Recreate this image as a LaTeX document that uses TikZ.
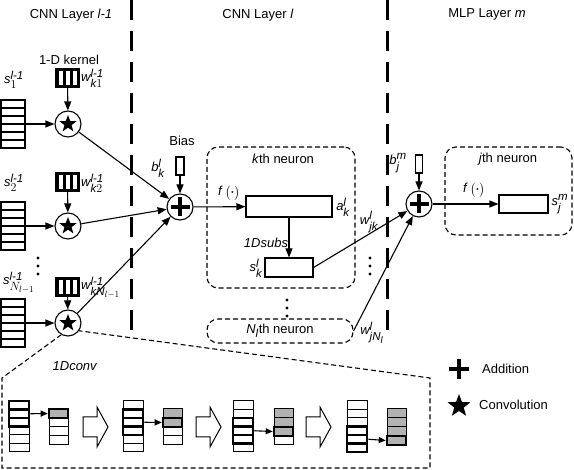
\documentclass[tikz,border=0pt]{standalone}
\usepackage{amsmath}
\usepackage{fontspec}
\setmainfont{Liberation Sans}
\DeclareMathSizes{13}{13}{11.5}{9.5}
\usetikzlibrary{arrows.meta,shapes.geometric}
\begin{document}
\begin{tikzpicture}[x=1pt,y=-1pt,
  every node/.style={font=\fontsize{13}{15}\selectfont, inner sep=0pt},
  thinline/.style={line width=1.1pt},
  arr/.style={line width=1.1pt,-{Triangle[length=9pt,width=7pt]}},
  layerline/.style={line width=3pt, dash pattern=on 20pt off 11pt},
  nbox/.style={draw, line width=1.1pt, dash pattern=on 5pt off 3pt, rounded corners=11pt},
  opcirc/.style={circle, draw, line width=1.1pt, minimum size=26pt},
  starglyph/.style={star, star points=5, star point ratio=2.4, fill=black, minimum size=18pt},
  hbox/.style={draw, line width=1.1pt},
  dotc/.style={fill=black, circle, minimum size=3.2pt}
]
\useasboundingbox (0,0) rectangle (574,470);

% layer separators
\draw[layerline] (131,0) -- (131,336);
\draw[layerline] (387,0) -- (387,337);

% headers
\node (h1) at (71,15) {CNN Layer \textit{l-1}};
\node (h2) at (258,15) {CNN Layer \textit{l}};
\node (h3) at (487,14) {MLP Layer \textit{m}};
\node (kl) at (69,60) {1-D kernel};

% input stacks, kernels, convolutions
\foreach \n/\ky/\sy in {1/78/124, 2/182/226, 3/287/323}{
  \foreach \r in {0,...,5}
    \draw[thinline] (1,{\sy-24+\r*8}) rectangle (25,{\sy-16+\r*8});
  \coordinate (in\n) at (25,\sy);
  \node[fill=black, minimum width=25pt, minimum height=20pt] (k\n) at (67.5,\ky) {};
  \foreach \dx in {-7,0,7}
    \fill[white] ({67.5+\dx-2},{\ky-7}) rectangle ++(4,14);
  \node[opcirc] (c\n) at (68,\sy) {};
  \node[starglyph] at (c\n) {};
  \draw[arr] (in\n) -- (c\n);
  \draw[arr] (k\n) -- (c\n);
}
\node (s1) at (14,80) {$\textit{s}_{1}^{\textit{l-1}}$};
\node (s2) at (14,183) {$\textit{s}_{2}^{\textit{l-1}}$};
\node (s3) at (19,283) {$\textit{s}_{N_{l-1}}^{\textit{l-1}}$};
\node[anchor=west] (w1) at (81,78) {$\textit{w}_{\textit{k}1}^{\textit{l-1}}$};
\node[anchor=west] (w2) at (81,183) {$\textit{w}_{\textit{k}2}^{\textit{l-1}}$};
\node[anchor=west] (w3) at (81,288) {$\textit{w}_{\textit{kN}_{l-1}}^{\textit{l-1}}$};
\foreach \yy in {258,266,274} \node[dotc] at (38,\yy) {};

% summation of layer l
\node[opcirc] (p1) at (180,207) {};
\draw[line width=3.3pt] (170.5,207) -- (189.5,207);
\draw[line width=3.3pt] (180,197.5) -- (180,216.5);
\node[hbox, minimum width=8pt, minimum height=18pt] (bb1) at (180,166) {};
\node (bias) at (182,141) {Bias};
\node (bk) at (158,168) {$\textit{b}_{\textit{k}}^{\textit{l}}$};
\draw[arr] (bb1) -- (p1);
\foreach \n in {1,2,3} \draw[arr] (c\n) -- (p1);

% kth neuron
\node[nbox, minimum width=148pt, minimum height=141pt] (kn) at (281,217.5) {};
\node (knl) at (283,159) {\textit{k}th neuron};
\node[hbox, minimum width=86pt, minimum height=21pt] (ab) at (289,206.5) {};
\node (f1) at (229,193) {$\textit{f}\;\bigl(\boldsymbol{\cdot}\bigr)$};
\node (ak) at (343,207) {$\textit{a}_{\textit{k}}^{\textit{l}}$};
\draw[arr] (p1) -- (ab);
\node[hbox, minimum width=48pt, minimum height=19pt] (sb) at (289,267.5) {};
\draw[arr] (ab.south -| sb.north) -- (sb.north);
\node (sub) at (266,243) {\textit{1Dsubs}};
\node (sk) at (256,268) {$\textit{s}_{\textit{k}}^{\textit{l}}$};
\foreach \yy in {300,308,316} \node[dotc] at (287,\yy) {};
\node[nbox, minimum width=146pt, minimum height=24pt] (nl) at (280,331) {};
\node (nll) at (280,331) {$\textit{N}_{\textit{l}}$th neuron};

% MLP layer
\node[opcirc] (p2) at (419,204) {};
\draw[line width=3.3pt] (409.5,204) -- (428.5,204);
\draw[line width=3.3pt] (419,194.5) -- (419,213.5);
\node[hbox, minimum width=7pt, minimum height=18pt] (bb2) at (419,164) {};
\node (bj) at (398,163) {$\textit{b}_{\textit{j}}^{\textit{m}}$};
\draw[arr] (bb2) -- (p2);
\draw[arr] (sb.east) -- (p2);
\draw[arr] (nl.east) -- (p2);
\node (wjk) at (369,222) {$\textit{w}_{\textit{jk}}^{\textit{l}}$};
\node (wjn) at (372,333) {$\textit{w}_{\textit{jN}_{\textit{l}}}^{\textit{l}}$};
\foreach \yy in {258,266,274} \node[dotc] at (370,\yy) {};
\node[nbox, minimum width=127pt, minimum height=88pt] (jn) at (508.5,191) {};
\node (jnl) at (508,159) {\textit{j}th neuron};
\node (f2) at (474,190) {$\textit{f}\;\bigl(\boldsymbol{\cdot}\bigr)$};
\node[hbox, minimum width=49pt, minimum height=18pt] (sjb) at (523.5,204) {};
\node (sj) at (560,204) {$\textit{s}_{\textit{j}}^{\textit{m}}$};
\draw[arr] (p2) -- (sjb);

% 1D convolution detail
\draw[line width=1.1pt, dash pattern=on 5pt off 3pt]
  (c3.240) -- (2,378) -- (2,468) -- (430,468) -- (430,378) -- (c3.-35);
\node (cv) at (75,366) {\textit{1Dconv}};

\foreach \s/\ix/\ox in {1/9/49, 2/123/163, 3/233/274, 4/347/387}{
  \pgfmathtruncatemacro\a{\s-1}
  \pgfmathtruncatemacro\b{\s+1}
  \foreach \r in {0,...,5}
    \draw[line width=1pt] (\ix,{401+\r*8.5}) rectangle ({\ix+20},{409.5+\r*8.5});
  \foreach \r in {\a,...,\b}
    \draw[line width=2.6pt] (\ix,{401+\r*8.5}) rectangle ({\ix+20},{409.5+\r*8.5});
  \foreach \r in {0,...,\a}
    \fill[black!30] (\ox,{409+\r*9}) rectangle ({\ox+19},{418+\r*9});
  \foreach \r in {0,...,3}
    \draw[line width=1pt] (\ox,{409+\r*9}) rectangle ({\ox+19},{418+\r*9});
  \draw[line width=2.6pt] (\ox,{409+\a*9}) rectangle ({\ox+19},{418+\a*9});
  \coordinate (ki\s) at ({\ix+21.3},{401+\a*8.5+12.75});
  \coordinate (ko\s) at ({\ox-1.3},{409+\a*9+4.5});
  \draw[line width=1.1pt,-{Triangle[length=7pt,width=6pt]}] (ki\s) -- (ko\s);
}
\foreach \ax in {83,196,306}
  \draw[line width=1pt] (\ax,417) -- ({\ax+14},417) -- ({\ax+14},407) -- ({\ax+25},427)
    -- ({\ax+14},447) -- ({\ax+14},437) -- (\ax,437) -- cycle;

% legend
\draw[line width=4pt] (449,369) -- (469,369);
\draw[line width=4pt] (459,359) -- (459,379);
\node[anchor=west] (add) at (482,369) {Addition};
\node[star, star points=5, star point ratio=2.4, fill=black, minimum size=24pt] (lst) at (459,406) {};
\node[anchor=west] (conv) at (479,405) {Convolution};
\end{tikzpicture}
\end{document}
